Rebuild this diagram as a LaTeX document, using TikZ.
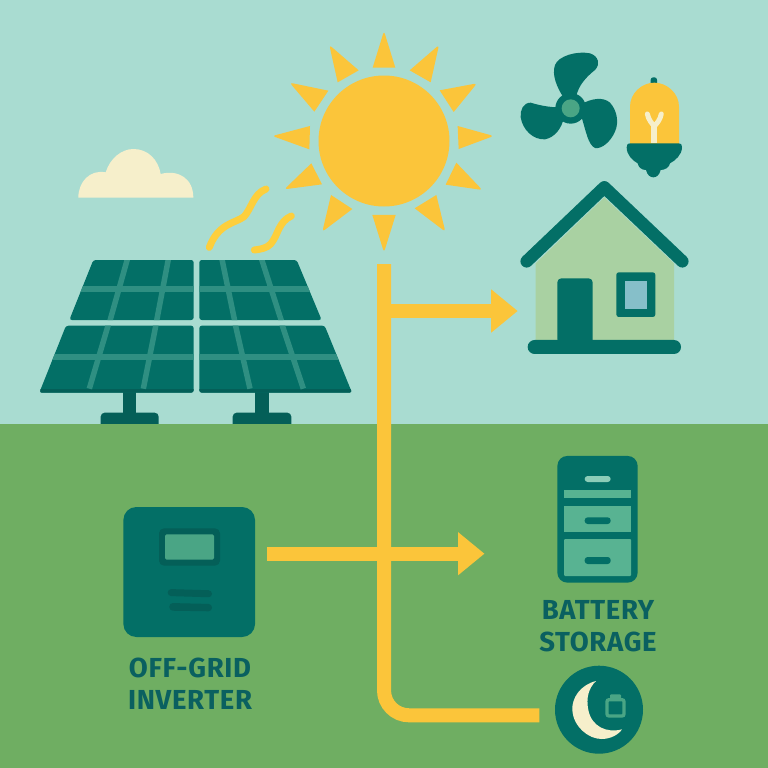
\documentclass[tikz,border=0pt]{standalone}
\usepackage{fontspec}
\setmainfont{Fira Sans}
\newfontfamily\signfont[LetterSpace=2.5]{Fira Sans}
\usetikzlibrary{arrows.meta,calc}
\definecolor{sky}{HTML}{A9DCD1}
\definecolor{ground}{HTML}{6FAE62}
\definecolor{teal}{HTML}{036F66}
\definecolor{tealdark}{HTML}{045F58}
\definecolor{grid}{HTML}{2F8F82}
\definecolor{sunny}{HTML}{FBC53A}
\definecolor{wave}{HTML}{FDCF3C}
\definecolor{cream}{HTML}{F6EFCB}
\definecolor{wall}{HTML}{A9D1A2}
\definecolor{pane}{HTML}{86BFC9}
\definecolor{mint}{HTML}{58B392}
\definecolor{hubmint}{HTML}{4AA585}
\definecolor{paleMint}{HTML}{8CCDB8}
\definecolor{labelink}{HTML}{0A6060}
\tikzset{
  flow/.style={draw=sunny,line width=14pt},
  flowtip/.style={-{Triangle[length=26.5pt,width=41.5pt]}},
  heading/.style={text=labelink,font=\signfont\fontsize{27.5}{32}\selectfont\bfseries,align=center,inner sep=0pt},
  cellline/.style={draw=grid,line width=5.5pt},
  waveline/.style={draw=wave,line width=7pt,line cap=round},
}
% one sun ray: two base corners and a rounded tip
\newcommand{\sunray}[3]{\fill[sunny] #1 -- #2 [rounded corners=3pt] -- #3 [sharp corners] -- cycle;}
% one solar panel: outline, dark lower rim, cell lines
\newcommand{\solarpanel}[3]{%
  \begin{scope}
    \clip[rounded corners=2.5pt] #1;
    \fill[teal] (0,200) rectangle (1000,700);
    \fill[tealdark] (0,#2) rectangle (1000,700);
    #3
  \end{scope}}
\begin{document}
\begin{tikzpicture}[x=1pt,y=-1pt]
\useasboundingbox (0,0) rectangle (768,768);
\fill[sky] (0,0) rectangle (768,424);

% cloud
\begin{scope}[shift={(70,140)},scale=1/3]
  \fill[cream] (25,173) .. controls (25,125) and (60,88) .. (107,97)
    .. controls (120,55) and (155,27) .. (190,27)
    .. controls (235,27) and (265,60) .. (272,102)
    .. controls (325,88) and (370,115) .. (370,173) -- cycle;
\end{scope}

% sun
\node[circle,fill=sunny,minimum size=131pt,inner sep=0pt,outer sep=0pt] (sun) at (384,141) {};
\begin{scope}[shift={(265,25)},scale=1/3]
  \sunray{(323,128)}{(391,128)}{(357,18)}
  \sunray{(434,136)}{(497,172)}{(522,60)}
  \sunray{(524,196)}{(566,261)}{(636,175)}
  \sunray{(578,303)}{(581,372)}{(686,333)}
  \sunray{(574,413)}{(542,479)}{(652,495)}
  \sunray{(514,510)}{(449,550)}{(541,620)}
  \sunray{(322,570)}{(392,570)}{(357,682)}
  \sunray{(262,552)}{(198,510)}{(172,620)}
  \sunray{(171,478)}{(139,415)}{(58,493)}
  \sunray{(135,303)}{(133,373)}{(22,333)}
  \sunray{(148,260)}{(190,197)}{(74,173)}
  \sunray{(218,172)}{(281,136)}{(193,60)}
\end{scope}

% solar panels with their stands
\begin{scope}[shift={(30,170)},scale=1/3]
  \fill[tealdark] (278,660) rectangle (318,735);
  \fill[tealdark] (676,660) rectangle (716,735);
  \fill[tealdark,rounded corners=4pt] (212,775) -- (212,728) -- (386,728) -- (386,775) -- cycle;
  \fill[tealdark,rounded corners=4pt] (608,775) -- (608,728) -- (784,728) -- (784,775) -- cycle;
  \solarpanel{(190,270) -- (491,270) -- (491,450) -- (118,450) -- cycle}{452}{
    \draw[cellline] (0,357) -- (600,357);
    \draw[cellline] (292,268) -- (240,452);
    \draw[cellline] (415,268) -- (380,452);}
  \solarpanel{(508,270) -- (800,270) -- (875,450) -- (508,450) -- cycle}{452}{
    \draw[cellline] (400,357) -- (1000,357);
    \draw[cellline] (576,268) -- (614,452);
    \draw[cellline] (695,268) -- (754,452);}
  \solarpanel{(108,467) -- (491,467) -- (491,668) -- (28,668) -- cycle}{656}{
    \draw[cellline] (0,561) -- (600,561);
    \draw[cellline] (235,464) -- (178,656);
    \draw[cellline] (378,464) -- (340,656);}
  \solarpanel{(508,467) -- (884,467) -- (966,668) -- (508,668) -- cycle}{656}{
    \draw[cellline] (400,561) -- (1000,561);
    \draw[cellline] (616,464) -- (660,656);
    \draw[cellline] (756,464) -- (820,656);}
  % heat waves above the panels
  \draw[waveline] (708,57) .. controls (670,72) and (665,115) .. (642,140)
    .. controls (615,160) and (565,160) .. (538,232);
  \draw[waveline] (784,138) .. controls (745,155) and (745,195) .. (722,222)
    .. controls (710,235) and (690,238) .. (673,240);
\end{scope}

% fan, bulb and house
\begin{scope}[shift={(500,60)},scale=1/3]
  \fill[teal] (190,112) .. controls (170,80) and (155,45) .. (165,15)
    .. controls (175,-12) and (230,-28) .. (270,-20)
    .. controls (295,-12) and (302,12) .. (285,30)
    .. controls (260,50) and (235,75) .. (228,112) -- cycle;
  \fill[teal] (178,142) .. controls (145,142) and (115,135) .. (92,128)
    .. controls (70,128) and (60,150) .. (62,172)
    .. controls (68,210) and (100,240) .. (135,238)
    .. controls (165,232) and (185,205) .. (192,172) -- cycle;
  \fill[teal] (245,132) .. controls (275,115) and (310,110) .. (330,128)
    .. controls (350,150) and (358,185) .. (345,215)
    .. controls (332,245) and (305,268) .. (285,264)
    .. controls (265,255) and (258,215) .. (245,172) -- cycle;
  \fill[teal] (212,145) circle[radius=46];
  \fill[hubmint] (212,145) circle[radius=27];

  \fill[teal,rounded corners=2.5pt] (452,80) rectangle (471,52);
  \fill[sunny] (390,252) -- (390,140) .. controls (390,100) and (425,68) .. (463,68)
    .. controls (501,68) and (537,100) .. (537,140) -- (537,252) -- cycle;
  \draw[cream,line width=6pt] (463,250) -- (463,198);
  \draw[cream,line width=5pt,line cap=round,line join=round] (442,162) .. controls (446,180) and (455,190) .. (463,198)
    .. controls (471,190) and (480,180) .. (484,162);
  \fill[teal] (392,250) -- (533,250) .. controls (545,250) and (546,255) .. (546,262)
    .. controls (546,285) and (525,302) .. (510,310)
    .. controls (508,322) and (495,330) .. (482,330)
    .. controls (478,345) and (470,352) .. (460,352)
    .. controls (450,352) and (442,345) .. (438,330)
    .. controls (425,330) and (415,322) .. (413,310)
    .. controls (398,302) and (380,285) .. (380,262)
    .. controls (380,255) and (382,250) .. (392,250) -- cycle;

  \fill[wall] (107,845) -- (107,610) -- (313,412) -- (522,610) -- (522,845) -- cycle;
  \draw[teal,line width=12.5pt,line cap=round,line join=round] (80,604) -- (313,382) -- (547,604);
  \fill[teal,rounded corners=4pt] (172,850) -- (172,655) -- (278,655) -- (278,850) -- cycle;
  \fill[teal,rounded corners=7pt] (83,840) rectangle (543,882);
  \fill[teal,rounded corners=2.5pt] (349,637) rectangle (466,771);
  \fill[pane] (375,663) rectangle (441,746);
\end{scope}

% ground
\fill[ground] (0,424) rectangle (768,768);

% inverter
\node[rounded corners=13pt,fill=teal,minimum width=131.7pt,minimum height=130pt,inner sep=0pt,outer sep=0pt] (inverter) at (189.2,572) {};
\begin{scope}[shift={(110,495)},scale=1/3]
  \fill[tealdark,rounded corners=5pt] (147,100) rectangle (330,212);
  \fill[hubmint,rounded corners=1.5pt] (165,118) rectangle (312,194);
  \fill[tealdark,rounded corners=3.5pt] (173,282) -- (306,286) -- (306,307) -- (173,303) -- cycle;
  \fill[tealdark,rounded corners=3.5pt] (178,324) -- (306,327) -- (306,349) -- (178,347) -- cycle;
\end{scope}
\node[heading] (inverterlabel) at (190,684) {OFF-GRID\\INVERTER};

% battery storage
\node[rounded corners=10pt,fill=teal,minimum width=80.3pt,minimum height=126.7pt,inner sep=0pt,outer sep=0pt] (battery) at (597.5,519.3) {};
\begin{scope}[shift={(520,450)},scale=1/3]
  \fill[paleMint,rounded corners=3pt] (194,78) rectangle (272,96);
  \fill[mint] (132,120) rectangle (333,145);
  \fill[mint] (132,167) rectangle (333,245);
  \fill[mint,rounded corners=1pt] (132,267) rectangle (333,378);
  \fill[teal,rounded corners=3pt] (194,202) rectangle (272,222);
  \fill[teal,rounded corners=3pt] (194,321) rectangle (272,342);
\end{scope}
\node[heading] (batterylabel) at (598,626.5) {BATTERY\\STORAGE};

% night mode badge
\node[circle,fill=teal,minimum size=88pt,inner sep=0pt,outer sep=0pt] (night) at (599,709.7) {};
\begin{scope}[shift={(520,450)},scale=1/3]
  \fill[cream] (228,693) .. controls (180,705) and (155,745) .. (157,780)
    .. controls (160,830) and (205,867) .. (245,867)
    .. controls (270,867) and (295,855) .. (306,838)
    .. controls (260,850) and (215,830) .. (205,780)
    .. controls (198,745) and (205,715) .. (228,693) -- cycle;
  \fill[hubmint,rounded corners=1pt] (270,733) rectangle (303,747);
  \draw[hubmint,line width=3.3pt,rounded corners=2pt] (261,749) rectangle (312,798);
\end{scope}

% energy flows
\coordinate (busstart) at ($(sun.south)+(0,57.5)$);
\coordinate (housein) at (517.7,311);
\coordinate (houseport) at (busstart |- housein);
\coordinate (invout) at (267.3,553.7);
\coordinate (batteryin) at (484.5,553.7);
\coordinate (nightin) at (539.3,715.3);
\draw[flow,rounded corners=25pt] (busstart) |- (nightin);
\draw[flow,flowtip] (houseport) -- (housein);
\draw[flow,flowtip] (invout) -- (batteryin);
\end{tikzpicture}
\end{document}
